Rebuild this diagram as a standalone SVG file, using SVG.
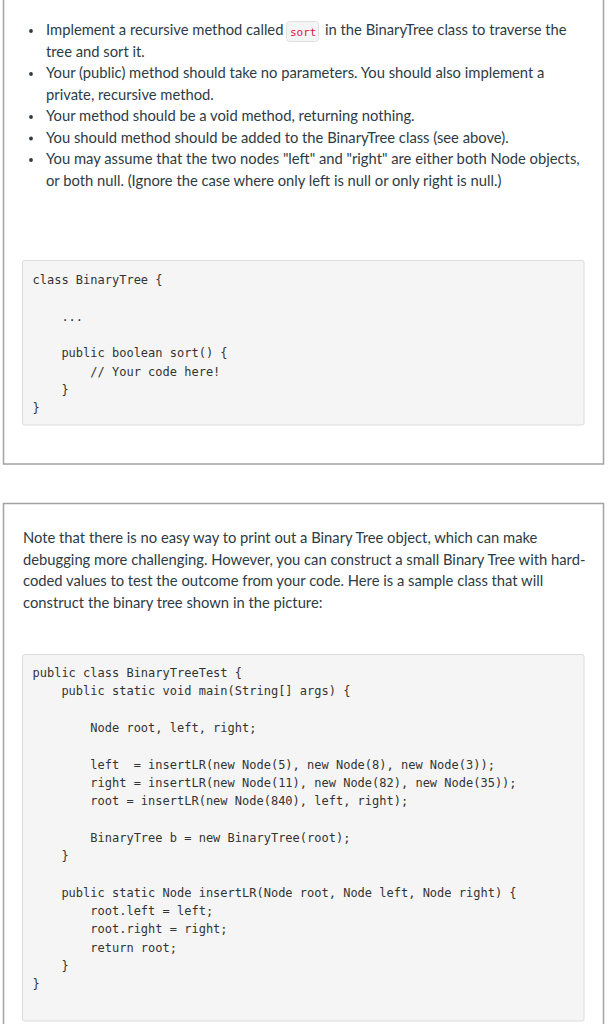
<svg xmlns="http://www.w3.org/2000/svg" width="608" height="1024" viewBox="0 0 608 1024">
<style>
.frame{fill:#ffffff;stroke:#a3a3a3;stroke-width:1.5}
.codebox{fill:#f5f5f5;stroke:#dcdcdc;stroke-width:1}
.p{font-family:Lato,"Open Sans","Liberation Sans",sans-serif;font-size:14.75px;fill:#2d3b45}
.c{font-family:"DejaVu Sans Mono","Liberation Mono",monospace;font-size:12px;fill:#333333;white-space:pre}
.chip{fill:#f5f5f5;stroke:#e0e0e0;stroke-width:1}
.chipt{font-family:"DejaVu Sans Mono","Liberation Mono",monospace;font-size:11px;fill:#dd1144}
.dot{fill:#2d3b45}
</style>
<rect width="608" height="1024" fill="#ffffff"/>
<g id="panel1">
<rect class="frame" x="3.5" y="-10" width="600" height="474"/>
<g id="bullets">
<circle class="dot" cx="31" cy="31" r="1.9"/>
<circle class="dot" cx="31" cy="74" r="1.9"/>
<circle class="dot" cx="31" cy="117" r="1.9"/>
<circle class="dot" cx="31" cy="138.5" r="1.9"/>
<circle class="dot" cx="31" cy="160" r="1.9"/>
<text class="p" x="46" y="35">Implement a recursive method called</text>
<rect class="chip" x="286.5" y="21.5" width="32" height="20" rx="3"/>
<text class="chipt" x="290" y="35.5">sort</text>
<text class="p" x="325" y="35">in the BinaryTree class to traverse the</text>
<text class="p" x="46" y="57">tree and sort it.</text>
<text class="p" x="46" y="78">Your (public) method should take no parameters. You should also implement a</text>
<text class="p" x="46" y="100">private, recursive method.</text>
<text class="p" x="46" y="121">Your method should be a void method, returning nothing.</text>
<text class="p" x="46" y="143">You should method should be added to the BinaryTree class (see above).</text>
<text class="p" x="46" y="164">You may assume that the two nodes "left" and "right" are either both Node objects,</text>
<text class="p" x="46" y="186">or both null. (Ignore the case where only left is null or only right is null.)</text>
</g>
<g id="code1">
<rect class="codebox" x="22.5" y="260.5" width="561.5" height="164.5" rx="2"/>
<text class="c" xml:space="preserve" x="32.5" y="284">class BinaryTree {</text>
<text class="c" xml:space="preserve" x="32.5" y="320.6">    ...</text>
<text class="c" xml:space="preserve" x="32.5" y="357.2">    public boolean sort() {</text>
<text class="c" xml:space="preserve" x="32.5" y="375.5">        // Your code here!</text>
<text class="c" xml:space="preserve" x="32.5" y="393.8">    }</text>
<text class="c" xml:space="preserve" x="32.5" y="412.1">}</text>
</g>
</g>
<g id="panel2">
<rect class="frame" x="3.5" y="503.5" width="600" height="540"/>
<g id="para">
<text class="p" x="23" y="543">Note that there is no easy way to print out a Binary Tree object, which can make</text>
<text class="p" x="23" y="565">debugging more challenging. However, you can construct a small Binary Tree with hard-</text>
<text class="p" x="23" y="586">coded values to test the outcome from your code. Here is a sample class that will</text>
<text class="p" x="23" y="608">construct the binary tree shown in the picture:</text>
</g>
<g id="code2">
<rect class="codebox" x="22.5" y="654.5" width="561.5" height="366.5" rx="2"/>
<text class="c" xml:space="preserve" x="32.5" y="677">public class BinaryTreeTest {</text>
<text class="c" xml:space="preserve" x="32.5" y="695.3">    public static void main(String[] args) {</text>
<text class="c" xml:space="preserve" x="32.5" y="731.9">        Node root, left, right;</text>
<text class="c" xml:space="preserve" x="32.5" y="768.5">        left  = insertLR(new Node(5), new Node(8), new Node(3));</text>
<text class="c" xml:space="preserve" x="32.5" y="786.8">        right = insertLR(new Node(11), new Node(82), new Node(35));</text>
<text class="c" xml:space="preserve" x="32.5" y="805.1">        root = insertLR(new Node(840), left, right);</text>
<text class="c" xml:space="preserve" x="32.5" y="841.7">        BinaryTree b = new BinaryTree(root);</text>
<text class="c" xml:space="preserve" x="32.5" y="860">    }</text>
<text class="c" xml:space="preserve" x="32.5" y="896.6">    public static Node insertLR(Node root, Node left, Node right) {</text>
<text class="c" xml:space="preserve" x="32.5" y="914.9">        root.left = left;</text>
<text class="c" xml:space="preserve" x="32.5" y="933.2">        root.right = right;</text>
<text class="c" xml:space="preserve" x="32.5" y="951.5">        return root;</text>
<text class="c" xml:space="preserve" x="32.5" y="969.8">    }</text>
<text class="c" xml:space="preserve" x="32.5" y="988.1">}</text>
</g>
</g>
</svg>
